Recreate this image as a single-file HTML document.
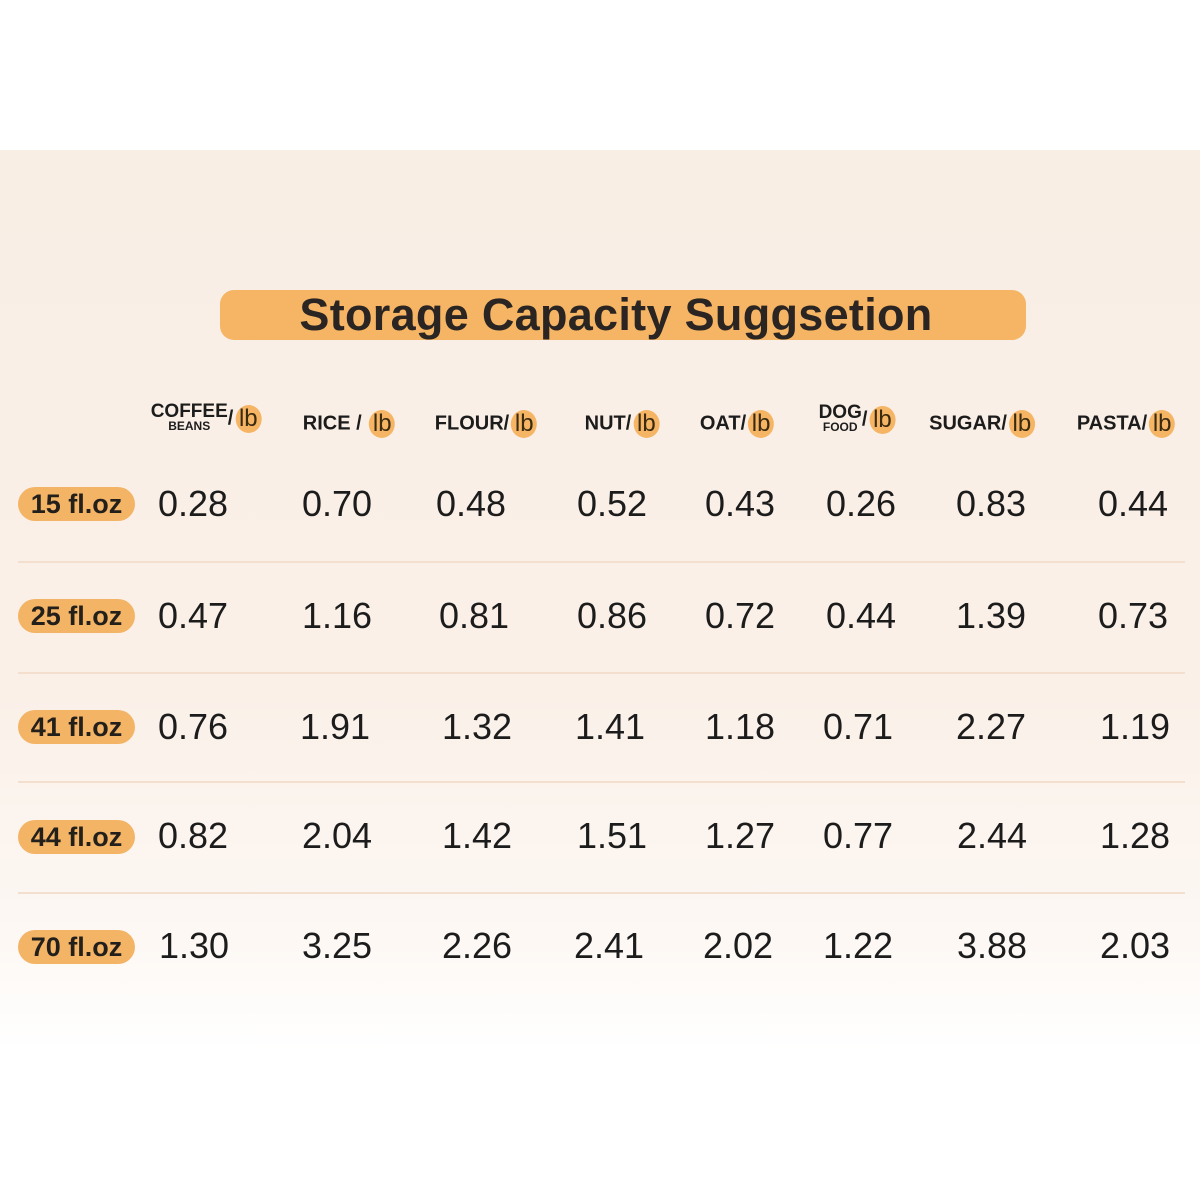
<!DOCTYPE html>
<html><head><meta charset="utf-8"><style>
*{margin:0;padding:0;box-sizing:border-box}
body{width:1200px;height:1200px;background:#fff;position:relative;overflow:hidden;font-family:"Liberation Sans",sans-serif;color:#1c1c1c}
.bg{position:absolute;left:0;top:150px;width:1200px;height:900px;background:linear-gradient(#f9eee4 0%,#faf0e8 60%,#fdf8f4 88%,#fff 100%)}
.title{position:absolute;left:220px;top:290px;width:806px;height:50px;background:#f5b565;border-radius:14px;font-weight:bold;font-size:45px;line-height:50px;text-align:center;color:#2a2522;letter-spacing:0.3px;text-indent:-14px}
.h{position:absolute;font-weight:bold;font-size:20px;transform:translateX(-50%);white-space:nowrap;top:410px;line-height:24px}
.lb{display:inline-block;background:#f5b565;border-radius:50%;width:26px;height:28px;text-align:center;font-size:24px;line-height:28px;font-weight:normal;color:#3a2a10;vertical-align:middle;margin-left:2px}
.small{display:inline-block;text-align:center;vertical-align:middle;line-height:14px}
.small b{display:block;font-size:19px}
.small i{display:block;font-style:normal;font-size:12px}
.pill{position:absolute;left:18px;width:117px;height:34px;background:#f3b466;border-radius:17px;font-weight:bold;font-size:27px;line-height:34px;text-align:center;color:#231f1a}
.n{position:absolute;font-size:36px;transform:translate(-50%,-50%);white-space:nowrap}
.sep{position:absolute;left:18px;width:1167px;height:2px;background:#f4dfcf}
</style></head><body>
<div class="bg"></div>
<div class="title">Storage Capacity Suggsetion</div>

<div class="h" style="left:206px;top:405px"><span class="small"><b>COFFEE</b><i>BEANS</i></span>/<span class="lb">lb</span></div>
<div class="h" style="left:349px">RICE / <span class="lb">lb</span></div>
<div class="h" style="left:486px">FLOUR/<span class="lb">lb</span></div>
<div class="h" style="left:622px">NUT/<span class="lb">lb</span></div>
<div class="h" style="left:737px">OAT/<span class="lb">lb</span></div>
<div class="h" style="left:857px;top:406px"><span class="small"><b>DOG</b><i>FOOD</i></span>/<span class="lb">lb</span></div>
<div class="h" style="left:982px">SUGAR/<span class="lb">lb</span></div>
<div class="h" style="left:1126px">PASTA/<span class="lb">lb</span></div>

<div class="pill" style="top:487px">15 fl.oz</div>
<div class="pill" style="top:599px">25 fl.oz</div>
<div class="pill" style="top:710px">41 fl.oz</div>
<div class="pill" style="top:820px">44 fl.oz</div>
<div class="pill" style="top:930px">70 fl.oz</div>

<div class="sep" style="top:561px"></div>
<div class="sep" style="top:672px"></div>
<div class="sep" style="top:781px"></div>
<div class="sep" style="top:892px"></div>

<div class="n" style="left:193px;top:504px">0.28</div><div class="n" style="left:337px;top:504px">0.70</div><div class="n" style="left:471px;top:504px">0.48</div><div class="n" style="left:612px;top:504px">0.52</div><div class="n" style="left:740px;top:504px">0.43</div><div class="n" style="left:861px;top:504px">0.26</div><div class="n" style="left:991px;top:504px">0.83</div><div class="n" style="left:1133px;top:504px">0.44</div>
<div class="n" style="left:193px;top:616px">0.47</div><div class="n" style="left:337px;top:616px">1.16</div><div class="n" style="left:474px;top:616px">0.81</div><div class="n" style="left:612px;top:616px">0.86</div><div class="n" style="left:740px;top:616px">0.72</div><div class="n" style="left:861px;top:616px">0.44</div><div class="n" style="left:991px;top:616px">1.39</div><div class="n" style="left:1133px;top:616px">0.73</div>
<div class="n" style="left:193px;top:727px">0.76</div><div class="n" style="left:335px;top:727px">1.91</div><div class="n" style="left:477px;top:727px">1.32</div><div class="n" style="left:610px;top:727px">1.41</div><div class="n" style="left:740px;top:727px">1.18</div><div class="n" style="left:858px;top:727px">0.71</div><div class="n" style="left:991px;top:727px">2.27</div><div class="n" style="left:1135px;top:727px">1.19</div>
<div class="n" style="left:193px;top:836px">0.82</div><div class="n" style="left:337px;top:836px">2.04</div><div class="n" style="left:477px;top:836px">1.42</div><div class="n" style="left:612px;top:836px">1.51</div><div class="n" style="left:740px;top:836px">1.27</div><div class="n" style="left:858px;top:836px">0.77</div><div class="n" style="left:992px;top:836px">2.44</div><div class="n" style="left:1135px;top:836px">1.28</div>
<div class="n" style="left:194px;top:946px">1.30</div><div class="n" style="left:337px;top:946px">3.25</div><div class="n" style="left:477px;top:946px">2.26</div><div class="n" style="left:609px;top:946px">2.41</div><div class="n" style="left:738px;top:946px">2.02</div><div class="n" style="left:858px;top:946px">1.22</div><div class="n" style="left:992px;top:946px">3.88</div><div class="n" style="left:1135px;top:946px">2.03</div>
</body></html>
